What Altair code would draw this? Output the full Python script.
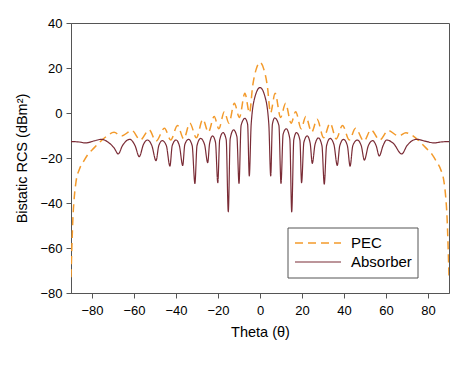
import altair as alt
import pandas as pd

# Absorber curve: (theta, RCS dBm^2)
abs_theta = [-90, -86, -83, -79, -75.5, -72, -69.5, -67.5, -65.5, -62, -59.5, -57.5, -55.5, -53.7,
             -51.5, -49.5, -48.2, -46.5, -44.6, -42.9, -41.8, -40, -38.4, -36.8, -35.8, -34,
             -32.3, -31, -30, -28.3, -26.4, -24.9, -24, -22.6, -21.2, -20.1, -19.2, -17.6, -16.1,
             -15.1, -14.2, -12.6, -11, -10, -9, -7.2, -5.9, -5.1, -4.2, -2.3, 0,
             2.3, 4.2, 5.1, 5.9, 7.0, 9, 10, 11, 12.5, 14.2, 15.1, 16.1, 17.4, 19.0, 19.8,
             20.9, 22.5, 23.9, 24.9, 26.2, 27.8, 29.5, 30.6, 31.7, 33.4, 35.2, 36.8, 38.0,
             39.8, 41.6, 42.9, 44.2, 46.3, 48.2, 49.7, 51.6, 53.7, 55.3, 56.8, 58.6, 60.3,
             63.5, 67.5, 70, 74.6, 79, 83, 86, 90]
abs_val = [-12.7, -12.9, -13.3, -12.4, -11.7, -13.2, -15.5, -18.2, -14.5, -11.7, -14.5, -19.4, -14, -12,
           -14.5, -21.2, -14.5, -12.3, -14.5, -23.6, -14.5, -12, -14.5, -23.3, -14, -11.7,
           -14.5, -31.3, -14.5, -11.3, -14, -22.1, -13.5, -10.2, -13, -31, -12, -8.7, -11.8,
           -43.9, -11.5, -7.5, -10.5, -31.3, -5.5, -2.4, -5, -28, -5, 7.5, 11.3,
           7.5, -5, -28, -5, -2.2, -5.5, -31.3, -9.5, -7, -11.5, -43.9, -11.8, -8.7, -12, -31,
           -13, -10.2, -13.5, -22.4, -14, -11.1, -14.5, -31.6, -14.5, -11.3, -14, -23.3, -14.5,
           -11.7, -14.5, -23.6, -14.5, -12, -14.5, -20.9, -14.5, -12.3, -14.5, -19.1, -14.5, -12,
           -13.5, -18.2, -14.5, -11.7, -12.6, -13.3, -12.9, -12.7]

# PEC curve
pec_theta = [-90, -89.6, -89.1, -88.4, -87.6, -86, -84, -82, -79, -76, -73, -69.5, -66, -61, -57,
             -52.8, -49.5, -45.5, -42.5, -39.3, -36.3, -33.4, -30.3, -27.2, -24.6, -21.8, -19.6,
             -17, -14.8, -12.2, -9.8, -7.2, -5.0, -3.5, -1.8, 0, 1.8, 3.5, 5.0, 7.2, 9.8, 12.2,
             14.8, 17, 19.6, 21.8, 24.6, 27.2, 30.3, 33.4, 36.3, 39.3, 42.5, 45.5, 49.5, 52.8,
             57, 61, 66, 69.5, 73, 76, 79, 82, 84, 86, 87.6, 88.4, 89.1, 89.6, 90]
pec_val = [-73, -60, -47, -37, -30.5, -25, -21.5, -18.5, -15.5, -12.7, -10.3, -8.6, -10.2, -7.8, -12,
           -7.5, -12.5, -6.8, -12, -5.5, -11.5, -4.5, -11, -2.8, -8.5, -1.5, -7,
           0.6, -4.5, 4.3, -2, 8.8, 0, 12, 19.5, 22.5, 19.5, 12, 0, 8.8, -2, 4.3,
           -4.5, 0.6, -7, -1.5, -8.5, -2.8, -11, -4.5, -11.5, -5.5, -12, -6.8, -12.5, -7.5,
           -12, -7.8, -10.2, -8.8, -10.3, -12.7, -15.5, -18.5, -21.5, -25, -30.5, -37, -47, -60, -73]

series_names = ["PEC", "Absorber"]
series_colors = ["#F39A2B", "#7A2C36"]
series_dash = [[8, 5], [1, 0]]
series_width = [1.5, 1.2]

df = pd.concat([
    pd.DataFrame({"theta": pec_theta, "rcs": pec_val, "series": "PEC", "k": 0}),
    pd.DataFrame({"theta": abs_theta, "rcs": abs_val, "series": "Absorber", "k": 1}),
], ignore_index=True)
df["i"] = range(len(df))

FONT = "Liberation Sans"

lines = alt.Chart(df).mark_line(interpolate="monotone", clip=True).encode(
    x=alt.X("theta:Q", scale=alt.Scale(domain=[-90, 90], nice=False, zero=False),
            axis=alt.Axis(values=[-80, -60, -40, -20, 0, 20, 40, 60, 80], title="Theta (θ)",
                          grid=False, tickSize=5, labelFontSize=13, titleFontSize=14.5,
                          titleFontWeight="normal", labelPadding=6, titlePadding=8,
                          domainColor="#555", tickColor="#555", labelColor="#000",
                          titleColor="#000", labelFont=FONT, titleFont=FONT)),
    y=alt.Y("rcs:Q", scale=alt.Scale(domain=[-80, 40], nice=False, zero=False),
            axis=alt.Axis(values=[-80, -60, -40, -20, 0, 20, 40], title="Bistatic RCS (dBm²)",
                          grid=False, tickSize=5, labelFontSize=13, titleFontSize=14.5,
                          titleFontWeight="normal", labelPadding=4, titlePadding=10,
                          domainColor="#555", tickColor="#555", labelColor="#000",
                          titleColor="#000", labelFont=FONT, titleFont=FONT)),
    color=alt.Color("series:N", scale=alt.Scale(domain=series_names, range=series_colors), legend=None),
    strokeDash=alt.StrokeDash("series:N", scale=alt.Scale(domain=series_names, range=series_dash),
                              legend=None),
    strokeWidth=alt.StrokeWidth("series:N", scale=alt.Scale(domain=series_names, range=series_width),
                                legend=None),
    order="i:Q",
    detail="k:Q",
)

# Legend (drawn by hand, pixel positions inside the plot area)
one = pd.DataFrame({"n": [0]})
LX0, LX1, LY0, LY1 = 217, 347, 205, 255
box = alt.Chart(one).mark_rect(fill="white", stroke="#555", strokeWidth=1).encode(
    x=alt.value(LX0), x2=alt.value(LX1), y=alt.value(LY0), y2=alt.value(LY1))
leg_layers = [box]
row_y = [220, 239]
for name, col, dash, w, yy in zip(series_names, series_colors, series_dash, series_width, row_y):
    leg_layers.append(alt.Chart(one).mark_rule(color=col, strokeDash=dash, strokeWidth=w).encode(
        x=alt.value(LX0 + 7), x2=alt.value(LX0 + 53), y=alt.value(yy)))
    leg_layers.append(alt.Chart(one).mark_text(text=name, align="left", baseline="middle",
                                               fontSize=15, font=FONT, color="#000").encode(
        x=alt.value(LX0 + 63), y=alt.value(yy)))

chart = alt.layer(lines, *leg_layers).properties(
    width=378, height=270,
    padding={"left": 63, "top": 15, "right": 17, "bottom": 60},
    autosize=alt.AutoSizeParams(type="none"),
).configure_view(stroke="#555", strokeWidth=1)

chart.save("out.html", embed_options={"renderer": "svg", "actions": False})
